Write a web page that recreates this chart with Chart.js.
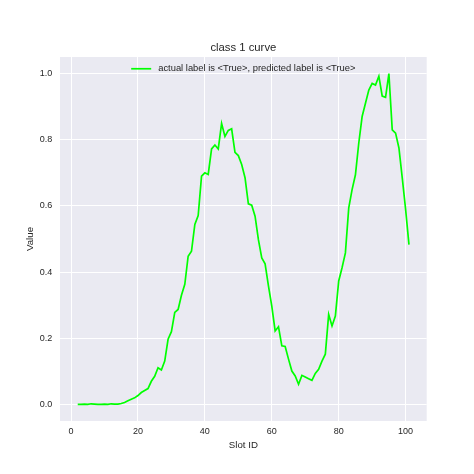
<!DOCTYPE html>
<html>
<head>
<meta charset="utf-8">
<script src="https://cdn.jsdelivr.net/npm/chart.js@4.4.1/dist/chart.umd.min.js"></script>
<style>
  html, body { margin: 0; padding: 0; background: #ffffff; }
  #wrap { width: 474px; height: 474px; }
</style>
</head>
<body>
<div id="wrap"><canvas id="curve"></canvas></div>
<script>
// slot ids 2..101 and the class 1 curve
const slotIds = [
  2, 3, 4, 5, 6, 7, 8, 9, 10, 11,
  12, 13, 14, 15, 16, 17, 18, 19, 20, 21,
  22, 23, 24, 25, 26, 27, 28, 29, 30, 31,
  32, 33, 34, 35, 36, 37, 38, 39, 40, 41,
  42, 43, 44, 45, 46, 47, 48, 49, 50, 51,
  52, 53, 54, 55, 56, 57, 58, 59, 60, 61,
  62, 63, 64, 65, 66, 67, 68, 69, 70, 71,
  72, 73, 74, 75, 76, 77, 78, 79, 80, 81,
  82, 83, 84, 85, 86, 87, 88, 89, 90, 91,
  92, 93, 94, 95, 96, 97, 98, 99, 100, 101
];
const curveValues = [
  0.000, 0.000, 0.001, 0.000, 0.002, 0.001, 0.000, 0.000, 0.001, 0.000,
  0.002, 0.001, 0.001, 0.003, 0.006, 0.011, 0.016, 0.020, 0.027, 0.036,
  0.042, 0.048, 0.070, 0.085, 0.111, 0.104, 0.131, 0.197, 0.220, 0.278,
  0.287, 0.330, 0.363, 0.448, 0.463, 0.544, 0.571, 0.690, 0.700, 0.695,
  0.772, 0.784, 0.772, 0.849, 0.810, 0.828, 0.833, 0.762, 0.752, 0.725,
  0.685, 0.606, 0.602, 0.569, 0.498, 0.443, 0.425, 0.358, 0.297, 0.222,
  0.235, 0.177, 0.175, 0.137, 0.101, 0.086, 0.061, 0.088, 0.083, 0.078,
  0.073, 0.094, 0.106, 0.131, 0.152, 0.272, 0.237, 0.267, 0.373, 0.413,
  0.458, 0.594, 0.649, 0.694, 0.790, 0.870, 0.910, 0.950, 0.970, 0.965,
  0.992, 0.932, 0.928, 1.000, 0.830, 0.820, 0.775, 0.684, 0.589, 0.483
];
const xTicks = [0, 20, 40, 60, 80, 100];
const yTicks = [0.0, 0.2, 0.4, 0.6, 0.8, 1.0];
const seriesLabel = 'actual label is <True>, predicted label is <True>';

const textColor = '#262626';
const fontFamily = "'Liberation Sans', Arial, sans-serif";

// grey plot background like seaborn darkgrid
const plotBackground = {
  id: 'plotBackground',
  beforeDraw(chart) {
    const {ctx, chartArea} = chart;
    ctx.save();
    ctx.fillStyle = '#eaeaf2';
    ctx.fillRect(chartArea.left, chartArea.top, chartArea.width, chartArea.height);
    ctx.restore();
  }
};

// legend sits inside the plot, top centre, without a frame
const innerLegend = {
  id: 'innerLegend',
  afterDatasetsDraw(chart) {
    const {ctx, chartArea} = chart;
    const ds = chart.data.datasets[0];
    ctx.save();
    ctx.font = '9.4px ' + fontFamily;
    const textW = ctx.measureText(ds.label).width;
    const lineW = 20, gap = 7;
    const total = lineW + gap + textW;
    const x0 = (chartArea.left + chartArea.right) / 2 - total / 2;
    const y = chartArea.top + 11.8;
    ctx.strokeStyle = ds.borderColor;
    ctx.lineWidth = ds.borderWidth;
    ctx.beginPath();
    ctx.moveTo(x0, y);
    ctx.lineTo(x0 + lineW, y);
    ctx.stroke();
    ctx.fillStyle = textColor;
    ctx.textBaseline = 'middle';
    ctx.textAlign = 'left';
    ctx.fillText(ds.label, x0 + lineW + gap, y);
    ctx.restore();
  }
};

const ctx = document.getElementById('curve').getContext('2d');
const data = {
  datasets: [{
    label: seriesLabel,
    data: slotIds.map((id, i) => ({x: id, y: curveValues[i]})),
    borderColor: '#00ff00',
    backgroundColor: '#00ff00',
    borderWidth: 1.7,
    pointRadius: 0,
    tension: 0,
    fill: false
  }]
};

const config = {
  type: 'line',
  data: data,
  options: {
    responsive: true,
    maintainAspectRatio: false,
    animation: false,
    layout: { padding: { left: 0, right: 47.3, top: 0, bottom: 0 } },
    plugins: {
      legend: { display: false },
      tooltip: { enabled: false },
      title: {
        display: true,
        text: 'class 1 curve',
        fullSize: false,
        color: textColor,
        font: { family: fontFamily, size: 11.3, weight: 'normal' },
        padding: { top: 41.2, bottom: 2.2 }
      }
    },
    scales: {
      x: {
        type: 'linear',
        min: -3.3,
        max: 106.3,
        afterBuildTicks: (scale) => { scale.ticks = xTicks.map(v => ({value: v})); },
        afterFit: (scale) => { scale.height = 53; },
        grid: { color: '#ffffff', lineWidth: 1, drawTicks: false },
        border: { display: false },
        ticks: {
          color: textColor,
          padding: 5.5,
          maxRotation: 0,
          font: { family: fontFamily, size: 9 },
          callback: (v) => String(v)
        },
        title: {
          display: true,
          text: 'Slot ID',
          color: textColor,
          font: { family: fontFamily, size: 9.7 },
          padding: { top: 0, bottom: 23.2 }
        }
      },
      y: {
        type: 'linear',
        min: -0.05,
        max: 1.05,
        afterBuildTicks: (scale) => { scale.ticks = yTicks.map(v => ({value: v})); },
        afterFit: (scale) => { scale.width = 60; },
        grid: { color: '#ffffff', lineWidth: 1, drawTicks: false },
        border: { display: false },
        ticks: {
          color: textColor,
          padding: 7.7,
          font: { family: fontFamily, size: 9 },
          callback: (v) => Number(v).toFixed(1)
        },
        title: {
          display: true,
          text: 'Value',
          color: textColor,
          font: { family: fontFamily, size: 9.7 },
          padding: { top: 24.2, bottom: 0 }
        }
      }
    }
  },
  plugins: [plotBackground, innerLegend]
};

const chart = new Chart(ctx, config);
</script>
</body>
</html>
